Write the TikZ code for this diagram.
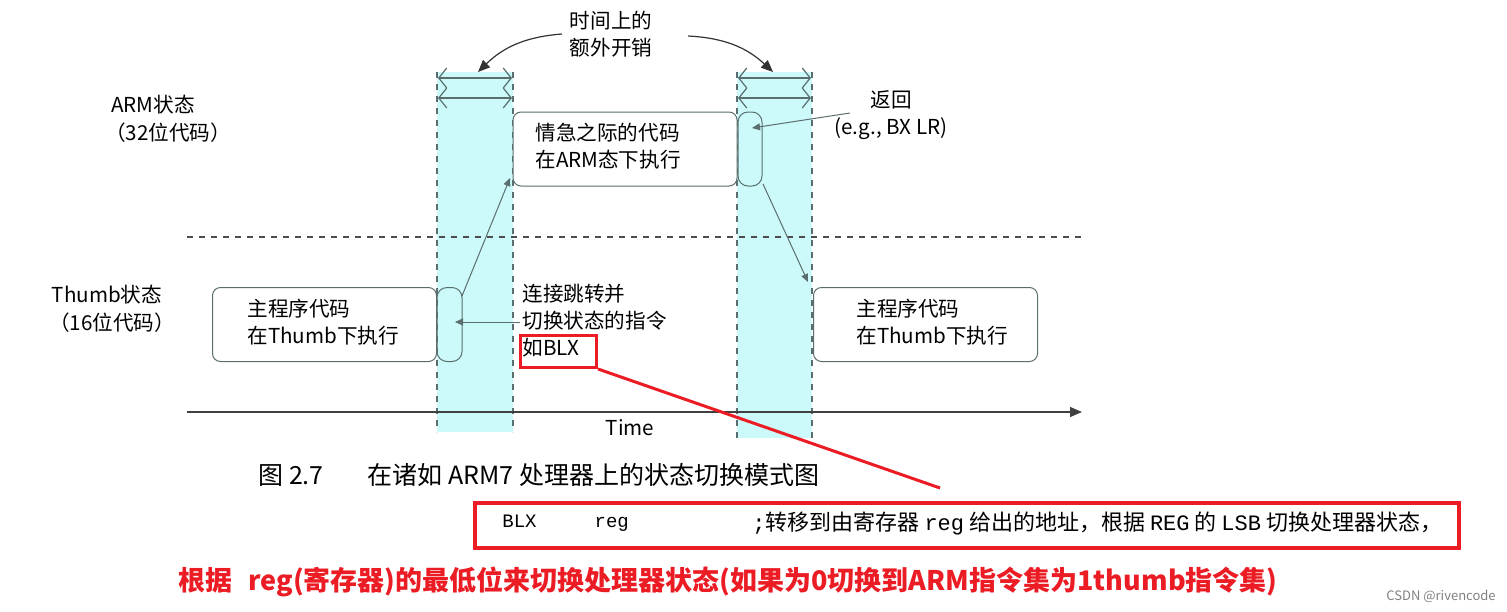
\documentclass[tikz,border=0pt]{standalone}
\usepackage{fontspec}
\setmainfont{Noto Sans CJK SC}
\newfontfamily\cjk{Noto Sans CJK SC}
\newfontfamily\monof{Liberation Mono}
\usetikzlibrary{arrows.meta}
\definecolor{bandc}{RGB}{204,250,250}
\definecolor{redc}{RGB}{235,28,36}
\definecolor{edgec}{RGB}{90,110,110}
\begin{document}
\begin{tikzpicture}[x=0.5pt,y=-0.5pt,
  box/.style={draw=edgec,rounded corners=4pt,fill=white,line width=0.5pt},
  pill/.style={draw=edgec,rounded corners=5pt,line width=0.5pt},
  lbl/.style={font=\fontsize{10.3}{13.5}\selectfont,inner sep=0pt},
  arr/.style={-{Triangle[length=4pt,width=3.5pt]},draw=edgec,line width=0.5pt},
  darr/.style={{Straight Barb[length=4pt,width=10pt]}-{Straight Barb[length=4pt,width=10pt]},draw=edgec,line width=0.6pt}]
\useasboundingbox (0,0) rectangle (1507,611);
% bands
\fill[bandc] (437,72) rectangle (513,432);
\fill[bandc] (737,72) rectangle (812,438);
\foreach \x/\b in {437/432,513/432,737/438,812/438}
  \draw[edgec,dashed,line width=0.6pt] (\x,72) -- (\x,\b);
\foreach \y in {78,98}{
  \draw[darr] (438,\y) -- (512,\y);
  \draw[darr] (738,\y) -- (811,\y);}
% separators
\draw[dashed,line width=0.6pt,black!70] (187,237) -- (1082,237);
\draw[-{Triangle[length=6pt,width=5pt]},line width=0.6pt,black!75] (187,412) -- (1082,412);
\node[lbl] (time) at (630,428) {Time};
% boxes
\node[box,minimum width=112pt,minimum height=37pt] (arm) at (625,149) {};
\node[lbl,align=left,anchor=north west] at (535,123) {情急之际的代码\\在ARM态下执行};
\node[pill,minimum width=12pt,minimum height=37pt] (p2) at (750,149) {};
\node[box,minimum width=112pt,minimum height=37pt] (t1) at (324.5,324.5) {};
\node[lbl,align=left,anchor=north west] at (247,299) {主程序代码\\在Thumb下执行};
\node[pill,minimum width=12.5pt,minimum height=37pt] (p1) at (449.5,324.5) {};
\node[box,minimum width=112pt,minimum height=37pt] (t2) at (925.5,324.5) {};
\node[lbl,align=left,anchor=north west] at (856,299) {主程序代码\\在Thumb下执行};
% labels
\node[lbl] (armlbl) at (153,105) {ARM状态};
\node[lbl] at (168,133) {（32位代码）};
\node[lbl] (thlbl) at (107,295) {Thumb状态};
\node[lbl] at (112,323) {（16位代码）};
\node[lbl,align=center] (ovh) at (611,34) {时间上的\\额外开销};
\node[lbl,align=center] (ret) at (891,115) {返回\\(e.g., BX LR)};
\node[lbl,align=left,anchor=north west] (blx) at (522,284) {连接跳转并\\切换状态的指令\\如BLX};
\node[draw=redc,line width=1.5pt,minimum width=38pt,minimum height=16pt,inner sep=0pt] (rb) at (558.5,351.5) {};
% arrows
\coordinate (a1s) at (462,296);
\coordinate (a1e) at (510,178);
\draw[arr] (a1s) -- (a1e);
\coordinate (a2s) at (763,184);
\coordinate (a2e) at (808,282);
\draw[arr] (a2s) -- (a2e);
\coordinate (a3s) at (520,322);
\coordinate (a3e) at (455,322);
\draw[arr] (a3s) -- (a3e);
\coordinate (a4s) at (850,113);
\coordinate (a4e) at (752,128);
\draw[arr] (a4s) -- (a4e);
\coordinate (c1s) at (562,34);
\coordinate (c1e) at (478,72);
\draw[-{Triangle[length=6pt,width=5pt]},line width=0.6pt,black!80] (c1s) to[bend right=20] (c1e);
\coordinate (c2s) at (688,36);
\coordinate (c2e) at (773,72);
\draw[-{Triangle[length=6pt,width=5pt]},line width=0.6pt,black!80] (c2s) to[bend left=20] (c2e);
% caption
\node[lbl,font=\fontsize{12.5}{14}\selectfont,anchor=west] (cap) at (258,475) {图 2.7\hspace{22pt}在诸如 ARM7 处理器上的状态切换模式图};
% red box
\node[draw=redc,line width=2pt,minimum width=492pt,minimum height=22.5pt,inner sep=0pt] (code) at (966.5,525.5) {};
\node[anchor=west,inner sep=0pt,font=\fontsize{9.5}{11}\selectfont] at (502,523) {\monof BLX\hspace{29pt}reg};
\node[anchor=west,inner sep=0pt,font=\fontsize{11}{11}\selectfont] at (752,523) {{\monof;}转移到由寄存器 {\monof reg} 给出的地址，根据 {\monof REG} 的 {\monof LSB} 切换处理器状态，};
\draw[redc,line width=1.5pt] (rb.south east) -- (940,488);
\node[text=redc,font=\fontsize{13.5}{15}\selectfont\bfseries,inner sep=0pt] (note) at (728,582) {根据\hspace{8pt}reg(寄存器)的最低位来切换处理器状态(如果为0切换到ARM指令集为1thumb指令集)};
\node[text=gray,font=\fontsize{6.5}{8}\selectfont,anchor=east,inner sep=0pt] (wm) at (1496,596) {CSDN @rivencode};
\end{tikzpicture}
\end{document}
